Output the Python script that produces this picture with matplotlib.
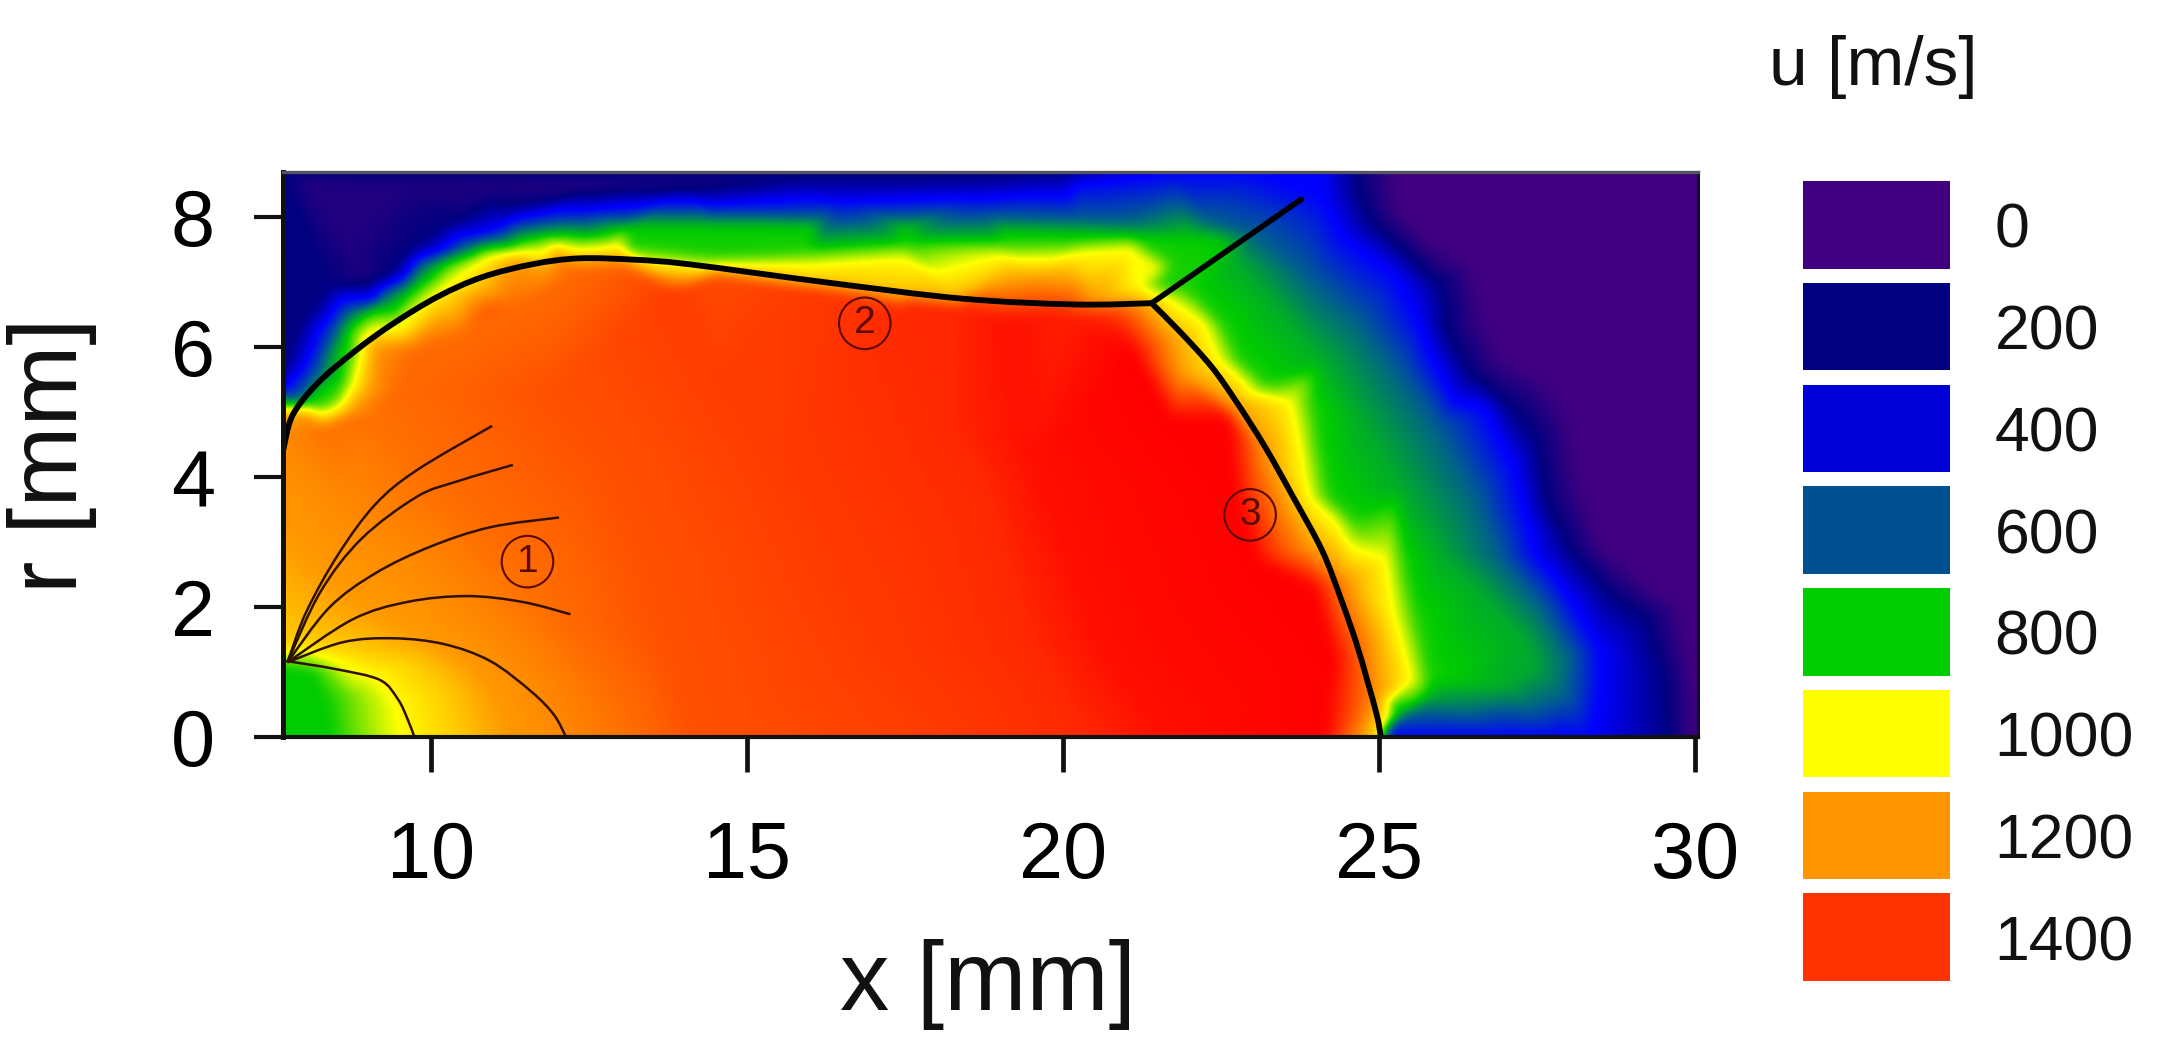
"""Axial velocity contour map behind a blunt body, with shock lines and streamlines."""

import numpy as np
import matplotlib
matplotlib.use("Agg")
import matplotlib.pyplot as plt
import matplotlib.tri as mtri
from matplotlib.colors import LinearSegmentedColormap
from matplotlib.patches import PathPatch
from matplotlib.path import Path

plt.rcParams["font.family"] = ["Liberation Sans", "DejaVu Sans"]

# legend
legend_values = [0, 200, 400, 600, 800, 1000, 1200, 1400]
legend_colors = ["#400080", "#000080", "#0000d8", "#005090", "#00cc00", "#ffff00", "#ff9500", "#ff3300"]

# colour scale of the field
scale_values = [0, 200, 400, 600, 800, 1000, 1200, 1400, 1500]
scale_colors = ["#400080", "#000080", "#0000ff", "#00608c", "#00cc00", "#ffff00", "#ff9900", "#ff3300", "#ff0000"]

x_ticks = [10, 15, 20, 25, 30]
r_ticks = [0, 2, 4, 6, 8]

# velocity contours, (x, r) in mm
u_0 = [(25.25, 8.7), (25.32, 8.12), (25.77, 7.65), (26.45, 7.3), (26.68, 6.41), (26.98, 5.82), (27.66, 5.47),
       (28.03, 4.88), (28.19, 3.88), (28.49, 2.99), (29.16, 2.4), (29.77, 1.99), (29.9, 1.22), (29.95, 0),
       (30.05, 0), (30.05, 4.0), (30.05, 8.7), (28.0, 8.7), (28.5, 6.5)]
u_100 = [(8.0, 8.55), (9.5, 8.5), (11.0, 8.5), (12.5, 8.5), (14.0, 8.55), (8.7, 7.6), (9.0, 7.1)]
u_200_top = [(7.65, 5.7), (7.95, 6.41), (8.38, 6.94), (9.33, 7.12), (9.69, 7.53), (10.2, 7.89), (11.29, 8.18),
             (13.1, 8.42), (16.0, 8.6), (18.69, 8.62), (20.0, 8.7), (7.65, 8.7)]
u_200_right = [(24.64, 8.7), (24.72, 8.3), (24.94, 7.89), (25.47, 7.42), (26.0, 6.94), (26.07, 6.24), (26.45, 5.59),
               (27.05, 5.12), (27.5, 4.59), (27.66, 3.58), (28.03, 2.88), (28.64, 2.23), (29.24, 1.81), (29.54, 0.93),
               (29.62, 0)]
u_400_top = [(7.65, 5.35), (8.09, 5.94), (8.38, 6.47), (9.11, 6.77), (9.62, 7.18), (10.2, 7.53), (10.93, 7.8),
             (12.38, 8.12), (14.56, 8.21), (16.5, 8.25), (18.69, 8.3), (20.2, 8.54), (21.7, 8.7), (23.0, 8.7)]
u_400_right = [(24.12, 8.7), (24.12, 8.3), (24.42, 7.71), (25.25, 7.12), (25.62, 6.41), (25.85, 5.82), (26.68, 5.06),
               (27.13, 4.17), (27.36, 3.29), (28.03, 2.11), (28.49, 1.34), (28.49, 0.63), (28.34, 0)]
u_400_bottom = [(25.1, 0), (26.0, 0), (27.0, 0), (27.8, 0)]
u_600 = [(7.9, 5.2), (8.2, 5.6), (8.42, 6.1), (8.7, 6.55), (9.3, 6.85), (9.8, 7.25), (10.56, 7.56), (11.8, 7.89),
         (13.1, 7.95), (14.5, 8.0), (16.0, 8.0), (17.5, 8.0), (19.0, 8.0), (20.2, 7.97), (20.95, 7.95), (22.3, 7.95),
         (23.06, 7.71), (23.81, 7.12), (24.72, 6.35), (25.32, 5.59), (25.92, 4.76), (26.53, 3.7), (26.9, 2.76),
         (27.58, 1.99), (28.03, 1.22), (27.96, 0.63), (27.36, 0.4), (26.4, 0.34), (25.47, 0.34)]
u_800_top = [(8.0, 5.15), (8.3, 5.45), (8.55, 5.95), (8.7, 6.3), (9.04, 6.56), (9.69, 6.88), (10.2, 7.3), (10.78, 7.53),
             (11.8, 7.74), (13.1, 7.86), (14.5, 7.86), (16.0, 7.86), (17.5, 7.85), (19.0, 7.78), (20.2, 7.75), (21.0, 7.72),
             (22.0, 7.7), (22.46, 7.65)]
u_740_right = [(22.76, 7.3), (23.36, 6.65), (24.12, 5.82), (24.72, 4.88), (25.32, 3.88), (25.92, 2.88),
               (26.6, 2.23), (27.28, 1.52), (27.43, 1.05), (26.98, 0.75), (25.85, 0.63), (25.25, 0.4)]
u_820_left = [(8.15, 5.1), (8.45, 5.25), (8.58, 5.5), (8.7, 5.95)]
u_820_top = [(13.1, 7.56), (14.5, 7.42), (16.0, 7.5), (17.5, 7.6), (19.0, 7.62), (20.2, 7.64), (21.1, 7.68), (21.75, 7.3),
             (21.55, 6.98)]
u_820_right = [(22.0, 6.88), (22.55, 6.32), (22.8, 5.8), (23.2, 5.45), (23.95, 5.18), (24.05, 4.5), (24.2, 3.7),
               (24.6, 3.35), (25.4, 2.72), (25.6, 1.85), (25.8, 0.9), (25.4, 0.42)]
u_800_corner = [(8.4, 0), (8.3, 0.6), (8.1, 1.0), (7.65, 1.1), (7.65, 0)]
u_900_corner = [(8.9, 0), (8.8, 0.6), (8.4, 1.02), (7.75, 1.18)]
u_1000_corner = [(9.5, 0), (9.4, 0.5), (9.1, 0.88), (8.5, 1.15), (7.65, 1.25)]
u_1100_corner = [(10.4, 0), (10.2, 0.7), (9.7, 1.15), (8.8, 1.35), (7.9, 1.5), (7.65, 1.4)]
u_1000 = [(7.65, 5.04), (8.5, 5.05), (8.75, 5.41), (8.89, 5.94), (9.47, 6.3), (9.9, 6.7), (10.2, 6.94), (10.71, 7.3),
          (11.44, 7.47), (12.02, 7.56), (13.1, 7.47), (14.5, 7.26), (16.0, 7.28), (17.5, 7.38), (19.0, 7.42),
          (20.2, 7.47), (21.1, 7.53), (21.48, 7.24), (21.18, 6.94)]
u_1000_right = [(21.67, 6.74), (22.23, 6.36), (22.46, 5.82), (22.91, 5.41), (23.59, 5.18), (23.74, 4.53), (23.89, 3.7),
                (24.27, 3.35), (25.1, 2.76), (25.25, 1.81), (25.51, 0.87), (25.17, 0.34), (25.05, 0)]
u_1200_left = [(7.65, 3.2), (8.2, 2.6), (8.9, 2.0), (9.8, 1.55), (10.6, 1.1), (11.0, 0.6), (11.2, 0)]
u_1200_top = [(7.65, 4.98), (8.02, 4.97), (8.75, 5.03), (9.04, 5.35), (9.11, 6.0), (10.06, 6.35), (10.93, 6.83),
              (11.8, 7.18)]
u_1200_above = [(11.36, 7.33), (12.02, 7.47), (12.96, 7.35)]
u_1200_above2 = [(19.0, 6.98), (19.6, 7.06), (20.2, 7.0), (20.5, 6.74)]
u_1200_right = [(21.25, 6.65), (21.7, 6.12), (21.86, 5.59), (22.68, 5.12), (23.21, 4.41), (23.51, 3.58), (23.89, 2.93),
                (24.49, 2.4), (24.87, 1.52), (24.98, 0.63), (24.72, 0)]
u_1230 = [(7.65, 4.6), (8.6, 3.6), (9.6, 2.8), (10.8, 1.7), (11.6, 0.9), (12.0, 0)]
u_1280 = [(8.3, 4.75), (9.1, 5.0), (10.2, 3.6), (11.7, 2.0), (12.8, 0.6), (13.1, 0)]
u_1290_top = [(9.45, 5.4), (9.7, 5.95), (10.5, 6.2), (11.3, 6.65), (12.0, 7.0)]
u_1340 = [(10.93, 6.6), (11.8, 5.3), (12.67, 4.17), (13.3, 2.7), (13.69, 1.34), (14.1, 0)]
u_1380 = [(13.83, 6.88), (14.5, 5.5), (15.29, 4.17), (16.0, 2.7), (16.74, 1.17), (17.8, 0)]
u_1420 = [(17.47, 6.6), (18.2, 4.76), (18.69, 4.0), (19.44, 1.52), (20.35, 0)]
u_1470 = [(19.1, 6.4), (19.5, 4.2), (20.6, 1.3), (21.6, 0)]
u_1500 = [(21.1, 5.94), (21.7, 4.88), (22.6, 4.88), (22.76, 3.58), (23.06, 2.7), (23.96, 2.28), (24.27, 1.22), (24.12, 0)]

contour_sets = [
    (0, u_0), (100, u_100), (200, u_200_top), (200, u_200_right), (400, u_400_top), (400, u_400_right),
    (400, u_400_bottom), (600, u_600), (800, u_800_top), (740, u_740_right), (820, u_820_left), (820, u_820_top),
    (820, u_820_right), (800, u_800_corner), (900, u_900_corner), (1000, u_1000_corner), (1100, u_1100_corner),
    (1000, u_1000), (1000, u_1000_right), (1200, u_1200_left), (1200, u_1200_top), (1200, u_1200_above),
    (1200, u_1200_above2), (1200, u_1200_right), (1230, u_1230), (1280, u_1280), (1290, u_1290_top), (1340, u_1340),
    (1380, u_1380), (1420, u_1420), (1470, u_1470), (1500, u_1500),
]

# samples right along the underside of the upper shock
under_x = [12.3, 13.1, 14.5, 16.0, 17.5, 18.3, 20.0, 20.8]
under_r = [7.2, 7.2, 7.08, 6.9, 6.72, 6.62, 6.5, 6.5]
under_u = [1300, 1325, 1355, 1385, 1405, 1425, 1440, 1400]
# samples on the upper shock itself
on_x = [14.5, 16.0, 17.5, 18.3]
on_r = [7.22, 7.03, 6.85, 6.76]
on_u = [1100, 1100, 1120, 1150]

# shock lines
shock_x = [7.65, 7.8, 8.2, 8.8, 9.4, 10.1, 10.8, 11.6, 12.33, 13.2, 14.07, 16.25, 18.4, 20.2, 21.4]
shock_r = [4.4, 4.95, 5.45, 5.95, 6.37, 6.78, 7.08, 7.28, 7.37, 7.35, 7.28, 7.0, 6.75, 6.66, 6.68]
shock2_x = [21.4, 21.85, 22.35, 22.75, 23.2, 23.65, 24.1, 24.4, 24.64, 24.82, 24.97, 25.03]
shock2_r = [6.68, 6.24, 5.7, 5.15, 4.46, 3.68, 2.87, 2.12, 1.45, 0.85, 0.32, 0]
oblique_x = [21.4, 23.77]
oblique_r = [6.68, 8.28]

# streamlines from the nozzle lip
stream_a = [(7.72, 1.15), (8.02, 1.93), (8.53, 2.82), (9.11, 3.58), (9.77, 4.11), (10.96, 4.79)]
stream_b = [(7.72, 1.15), (8.24, 2.23), (8.89, 3.05), (9.77, 3.7), (10.42, 3.94), (11.29, 4.19)]
stream_c = [(7.72, 1.15), (8.38, 1.99), (9.11, 2.52), (9.98, 2.93), (10.93, 3.23), (12.02, 3.38)]
stream_d = [(7.72, 1.15), (8.75, 1.81), (9.62, 2.08), (10.56, 2.17), (11.44, 2.08), (12.2, 1.89)]
stream_e = [(7.72, 1.15), (8.6, 1.46), (9.4, 1.52), (10.2, 1.43), (10.93, 1.17), (11.58, 0.7), (11.94, 0.34), (12.13, 0)]
stream_f = [(7.7, 1.17), (8.46, 1.05), (9.18, 0.88), (9.47, 0.58), (9.62, 0.28), (9.73, 0)]
streamlines = [stream_a, stream_b, stream_c, stream_d, stream_e, stream_f]

zone_labels = ["1", "2", "3"]
zone_x = [11.52, 16.86, 22.96]
zone_r = [2.70, 6.37, 3.42]

W, H = 2161, 1046


def curve(xs, rs):
    # smooth path through the read points (Catmull-Rom as Bezier segments)
    p = np.column_stack([xs, rs])
    verts, codes = [p[0]], [Path.MOVETO]
    for i in range(len(p) - 1):
        prev = p[max(i - 1, 0)]
        nxt = p[min(i + 2, len(p) - 1)]
        verts += [p[i] + (p[i + 1] - prev) / 6, p[i + 1] - (nxt - p[i]) / 6, p[i + 1]]
        codes += [Path.CURVE4] * 3
    return Path(verts, codes)


# light blur, the source image is soft
def soften(a, n=13):
    kernel = np.ones(n) / n
    pad = n // 2
    a = np.pad(a, pad, mode="edge")
    a = np.apply_along_axis(lambda v: np.convolve(v, kernel, mode="same"), 0, a)
    a = np.apply_along_axis(lambda v: np.convolve(v, kernel, mode="same"), 1, a)
    return a[pad:-pad, pad:-pad]


fig = plt.figure(figsize=(W / 100, H / 100), dpi=100)
ax = fig.add_axes([283 / W, 1 - 737 / H, (1698 - 283) / W, (737 - 172) / H])

# field
pts_x, pts_r, pts_u = list(under_x) + list(on_x), list(under_r) + list(on_r), list(under_u) + list(on_u)
for level, line in contour_sets:
    for px, pr in line:
        pts_x.append(px)
        pts_r.append(pr)
        pts_u.append(level)
tri = mtri.Triangulation(pts_x, pts_r)
interp = mtri.LinearTriInterpolator(tri, pts_u)
gx, gr = np.meshgrid(np.linspace(7.65, 30.05, 1400), np.linspace(0, 8.7, 560))
field = np.ma.filled(interp(gx, gr), np.nan)
mask = np.isnan(field)
if mask.any():
    field[mask] = np.nanmedian(field)
field = soften(soften(field))

nodes = [v / scale_values[-1] for v in scale_values]
cmap = LinearSegmentedColormap.from_list("u_map", list(zip(nodes, scale_colors)), N=1024)
ax.imshow(field, extent=[7.65, 30.05, 0, 8.7], origin="lower", aspect="auto", cmap=cmap,
          vmin=0, vmax=1500, interpolation="bilinear")

# lines
for xs, rs in [(shock_x, shock_r), (shock2_x, shock2_r)]:
    ax.add_patch(PathPatch(curve(xs, rs), fc="none", ec="black", lw=4.2, capstyle="round"))
ax.plot(oblique_x, oblique_r, color="black", lw=4.0, solid_capstyle="round")
for line in streamlines:
    ax.add_patch(PathPatch(curve([p[0] for p in line], [p[1] for p in line]), fc="none", ec="#301000", lw=1.8))

for lab, zx, zr in zip(zone_labels, zone_x, zone_r):
    ax.text(zx, zr, lab, fontsize=28, color="#5a0a00", ha="center", va="center",
            bbox=dict(boxstyle="circle,pad=0.2", fc="none", ec="#5a0a00", lw=1.5))

ax.set_xlim(7.65, 30.05)
ax.set_ylim(0, 8.7)
ax.set_xticks(x_ticks)
ax.set_yticks(r_ticks)
ax.tick_params(axis="x", length=25, width=3.4, labelsize=57, pad=35, color="#111111")
ax.tick_params(axis="y", length=21, width=3.0, labelsize=57, pad=28, color="#111111")
ax.spines["left"].set_linewidth(3.6)
ax.spines["left"].set_color("#14100c")
ax.spines["bottom"].set_linewidth(3.0)
ax.spines["bottom"].set_color("#111111")
ax.spines["right"].set_linewidth(2.2)
ax.spines["right"].set_color("#111122")
ax.spines["top"].set_linewidth(2.4)
ax.spines["top"].set_color("#555560")

fig.text(988 / W, 1 - 985 / H, "x [mm]", fontsize=71, ha="center", va="center", color="#111111")
fig.text(52 / W, 1 - 455 / H, "r [mm]", fontsize=70, rotation=90, ha="center", va="center", color="#111111")
fig.text(1873 / W, 1 - 67 / H, "u [m/s]", fontsize=50, ha="center", va="center", color="#111111")

# legend
lax = fig.add_axes([1803 / W, 1 - 988 / H, (1950 - 1803) / W, (988 - 174) / H])
pos = np.arange(len(legend_values))
lax.barh(pos, [1] * len(pos), height=0.86, color=legend_colors)
lax.set_xlim(0, 1)
lax.set_ylim(len(pos) - 0.5, -0.5)
lax.set_xticks([])
lax.yaxis.tick_right()
lax.set_yticks(pos)
lax.set_yticklabels([str(v) for v in legend_values], fontsize=45, color="#111111")
lax.tick_params(axis="y", length=0, pad=32)
for spine in lax.spines.values():
    spine.set_visible(False)

fig.savefig("out.png", dpi=100)
plt.close(fig)
